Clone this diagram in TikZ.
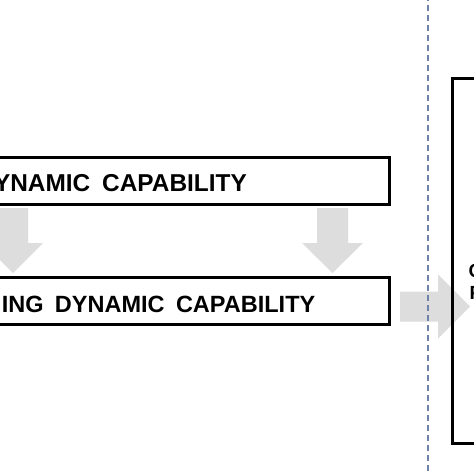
\documentclass[tikz,border=0pt]{standalone}
\usepackage{fontspec}
\setmainfont{Liberation Sans}[WordSpace=1.75]
\definecolor{arrowgray}{RGB}{221,221,221}
\definecolor{divblue}{RGB}{110,130,170}
\begin{document}
\begin{tikzpicture}[x=1pt,y=-1pt,
  capbox/.style={draw=black, line width=3pt, rectangle, inner sep=0pt, anchor=north west},
  captext/.style={font=\fontsize{24.4}{28}\selectfont\bfseries, inner sep=0pt, anchor=base east},
  sidetext/.style={font=\fontsize{19}{22}\selectfont\bfseries, inner sep=0pt, anchor=base west},
  blockarrow/.style={fill=arrowgray, draw=none},
  divider/.style={draw=divblue, line width=2pt, dash pattern=on 6pt off 4pt}]
\useasboundingbox (0,0) rectangle (474,474);
\clip (0,0) rectangle (474,474);
\fill[white] (0,0) rectangle (474,474);
% block arrows
\fill[blockarrow] (-2,208) -- (28,208) -- (28,243) -- (43,243) -- (13,273) -- (-17,243) -- (-2,243) -- cycle;
\fill[blockarrow] (317,208) -- (348,208) -- (348,243) -- (363,243) -- (332.5,273) -- (302,243) -- (317,243) -- cycle;
\fill[blockarrow] (400,291.5) -- (438,291.5) -- (438,274.5) -- (470,306.5) -- (438,338.5) -- (438,321.5) -- (400,321.5) -- cycle;
% divider
\coordinate (dtop) at (428,-5);
\coordinate (dbot) at (428,480);
\draw[divider] (dtop) -- (dbot);
% boxes
\node[capbox, minimum width=408pt, minimum height=47pt] (box1) at (-20,156) {};
\node[capbox, minimum width=408pt, minimum height=47pt] (box2) at (-20,276) {};
\node[capbox, minimum width=80pt, minimum height=365pt] (box3) at (451,77) {};
% texts
\node[captext] (t1) at (247,191) {DYNAMIC CAPABILITY};
\node[captext, font=\fontsize{23.5}{28}\selectfont\bfseries] (t2) at (315.5,312) {ING DYNAMIC CAPABILITY};
\node[sidetext] (t3) at (468.5,277) {C};
\node[sidetext] (t4) at (469.5,299) {P};
\end{tikzpicture}
\end{document}
